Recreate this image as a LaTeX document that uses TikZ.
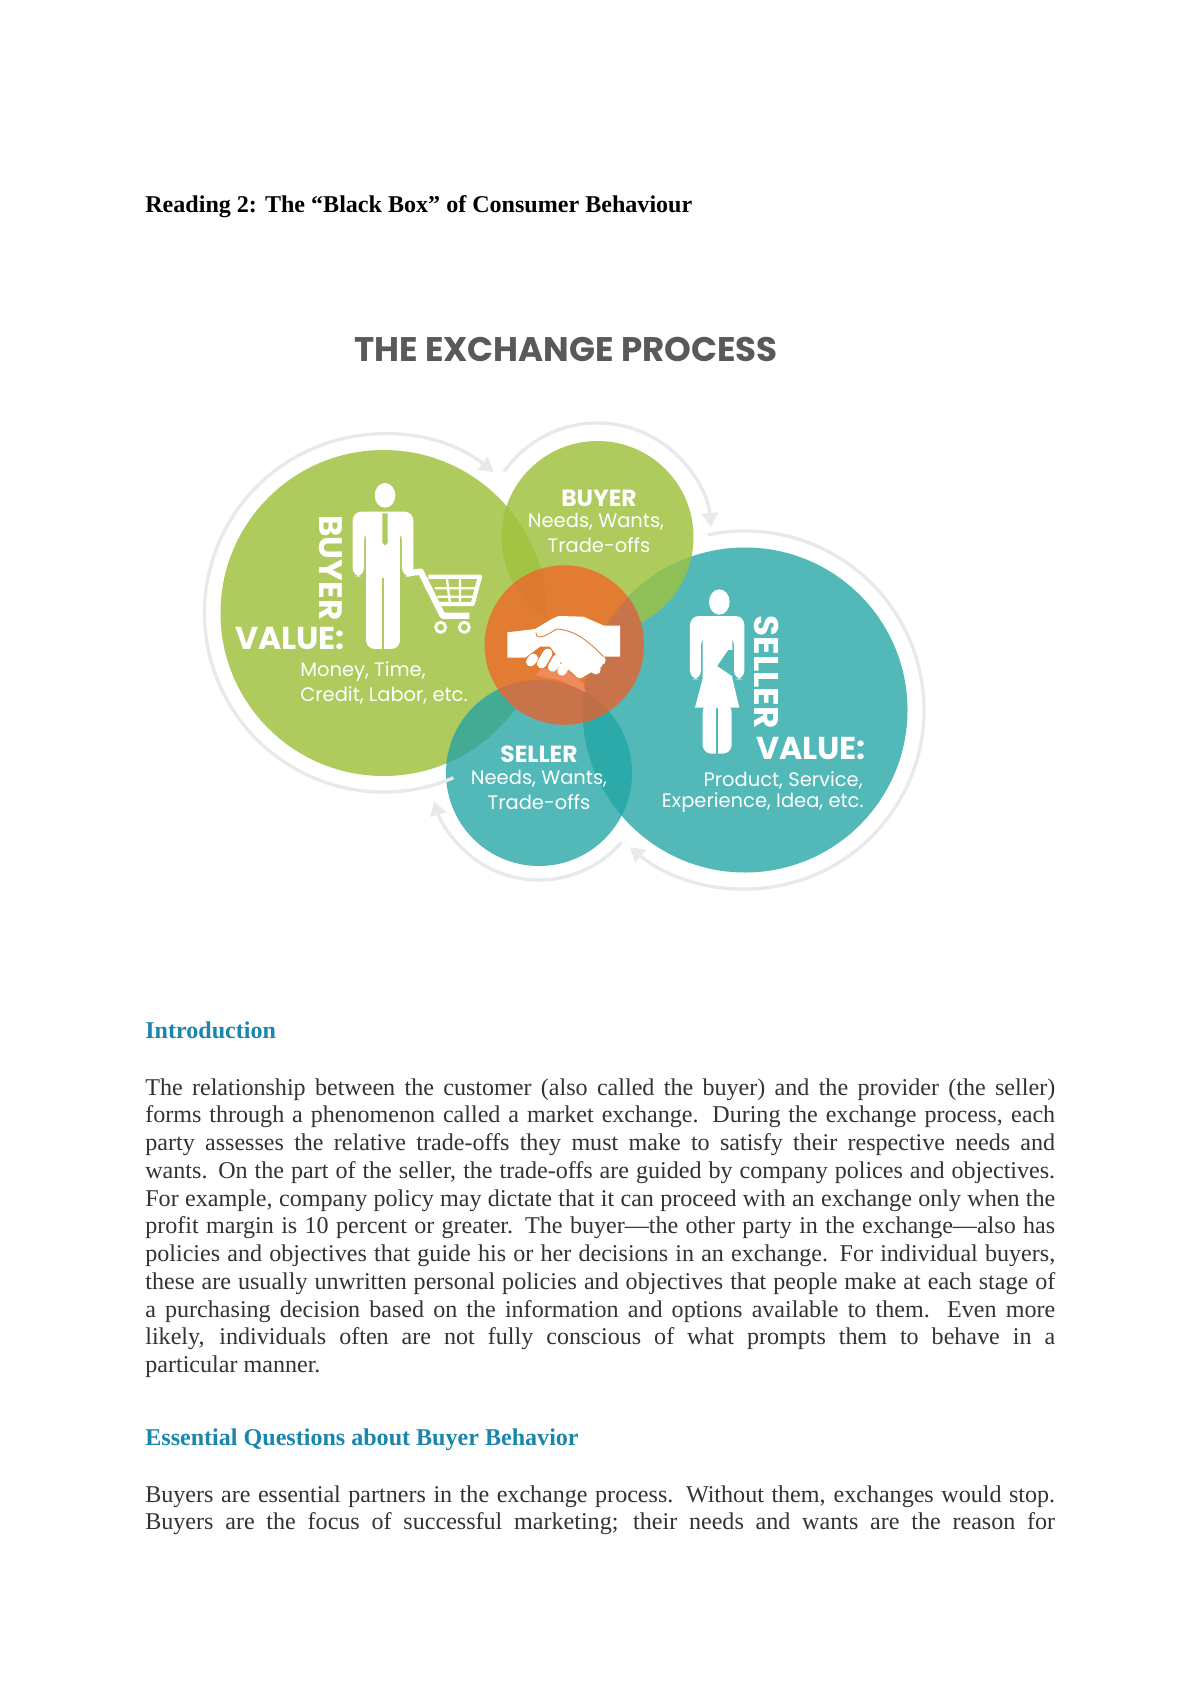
\documentclass[tikz,border=0pt]{standalone}
\usepackage{fontspec}
\setmainfont{Liberation Serif}
\setsansfont{Poppins}
\usetikzlibrary{arrows.meta}
\definecolor{g_base}{HTML}{AFCB5D}
\definecolor{g_over}{HTML}{A3C343}
\definecolor{t_base}{HTML}{52B8B8}
\definecolor{t_over}{HTML}{2CA9A9}
\definecolor{gt_over}{HTML}{8FBF57}
\definecolor{tg_over}{HTML}{43AB93}
\definecolor{o_base}{HTML}{E27C33}
\definecolor{o_over}{HTML}{C8734A}
\definecolor{o_deep}{HTML}{BE6F48}
\definecolor{o_soft}{HTML}{DD7A32}
\definecolor{o_light}{HTML}{EF8A5C}
\definecolor{arc_grey}{HTML}{E8E9EA}
\definecolor{head_grey}{HTML}{58595B}
\definecolor{head_blue}{HTML}{1A86B0}
\definecolor{body_grey}{HTML}{333333}
\newcommand{\bigGreen}{(383.5,613) circle (163)}
\newcommand{\smallGreen}{(597.5,537) circle (96)}
\newcommand{\bigTeal}{(745,710) circle (162.5)}
\newcommand{\smallTeal}{(539,773) circle (93)}
\newcommand{\midOrange}{(564.3,645) circle (79.7)}
\newcommand{\fullline}[1]{\hbox to 18.2cm{#1}}
\tikzset{
  x=0.02cm, y=-0.02cm,
  arc_c/.style = {draw=arc_grey, line width=1.9pt, -{Triangle[length=8pt,width=9pt]}},
  txt_w/.style = {white, inner sep=0pt, font=\sffamily\fontsize{11.1}{13}\selectfont},
  txt_b/.style = {txt_w, font=\sffamily\bfseries\fontsize{13.3}{15}\selectfont},
  txt_v/.style = {txt_w, font=\sffamily\bfseries\fontsize{18}{21}\selectfont},
  txt_s/.style = {txt_w, rotate=-90, font=\sffamily\bfseries\fontsize{18.5}{21}\selectfont},
  head_t/.style = {anchor=base west, inner sep=0pt, font=\bfseries\fontsize{13.7}{15.8}\selectfont},
  para_t/.style = {anchor=north west, inner sep=0pt, text=body_grey, font=\fontsize{13.7}{15.8}\selectfont}
}
\begin{document}
\begin{tikzpicture}
	\useasboundingbox (0,0) rectangle (1200,1696);
	\fill[white] (0,0) rectangle (1200,1696);
	% page text
	\node [head_t] (title) at (145,213) {Reading 2: The “Black Box” of Consumer Behaviour};
	\node [head_t, text=head_blue] (intro) at (145,1038) {Introduction};
	\node [para_t] (introtext) at (145,1078) {\vbox{
		\fullline{The relationship between the customer (also called the buyer) and the provider (the seller)}
		\fullline{forms through a phenomenon called a market exchange. During the exchange process, each}
		\fullline{party assesses the relative trade-offs they must make to satisfy their respective needs and}
		\fullline{wants. On the part of the seller, the trade-offs are guided by company polices and objectives.}
		\fullline{For example, company policy may dictate that it can proceed with an exchange only when the}
		\fullline{profit margin is 10 percent or greater. The buyer—the other party in the exchange—also has}
		\fullline{policies and objectives that guide his or her decisions in an exchange. For individual buyers,}
		\fullline{these are usually unwritten personal policies and objectives that people make at each stage of}
		\fullline{a purchasing decision based on the information and options available to them.  Even more}
		\fullline{likely, individuals often are not fully conscious of what prompts them to behave in a}
		\hbox{particular manner.}}};
	\node [head_t, text=head_blue] (quest) at (145,1445) {Essential Questions about Buyer Behavior};
	\node [para_t] (questtext) at (145,1485) {\vbox{
		\fullline{Buyers are essential partners in the exchange process. Without them, exchanges would stop.}
		\fullline{Buyers are the focus of successful marketing; their needs and wants are the reason for}}};
	\node [anchor=center, inner sep=0pt, text=head_grey, font=\sffamily\bfseries\fontsize{19.4}{23}\selectfont] (process) at (566,349) {THE EXCHANGE PROCESS};
	% circles and their overlaps
	\fill[g_base] \bigGreen;
	\fill[g_base] \smallGreen;
	\begin{scope}\clip \bigGreen; \fill[g_over] \smallGreen; \end{scope}
	\fill[t_base] \bigTeal;
	\fill[t_base] \smallTeal;
	\begin{scope}\clip \smallGreen; \fill[gt_over] \bigTeal; \end{scope}
	\begin{scope}\clip \bigGreen; \fill[tg_over] \smallTeal; \end{scope}
	\begin{scope}\clip \bigTeal; \fill[t_over] \smallTeal; \end{scope}
	\fill[o_base] \midOrange;
	\begin{scope}\clip \midOrange;
		\begin{scope}\clip \bigGreen; \fill[o_soft] \smallGreen; \end{scope}
		\begin{scope}\clip \smallGreen; \fill[o_soft] \bigTeal; \end{scope}
		\fill[o_over] \bigTeal;
		\fill[o_over] \smallTeal;
		\begin{scope}\clip \bigTeal; \fill[o_deep] \smallTeal; \end{scope}
	\end{scope}
	% arcs
	\draw[arc_c] (383.5,613) ++(67:179) arc[start angle=67, end angle=308, radius=179];
	\draw[arc_c] (597.5,537) ++(-145:114) arc[start angle=-145, end angle=-5, radius=114];
	\draw[arc_c] (745,710) ++(-102:179) arc[start angle=-102, end angle=130, radius=179];
	\draw[arc_c] (539,771) ++(41:109) arc[start angle=41, end angle=164, radius=109];
	% circle texts
	\node [txt_b] (b_word) at (599,498) {BUYER};
	\node [txt_w] (b_needs) at (596,522) {Needs, Wants,};
	\node [txt_w] (b_trade) at (599,545) {Trade-offs};
	\node [txt_b] (s_word) at (539,754) {SELLER};
	\node [txt_w] (s_needs) at (539,779) {Needs, Wants,};
	\node [txt_w] (s_trade) at (539,802) {Trade-offs};
	\node [txt_v] (b_value) at (290,638.5) {VALUE:};
	\node [txt_s] (b_side) at (331,568) {BUYER};
	\node [txt_w, anchor=west] (b_money) at (300,672) {Money, Time,};
	\node [txt_w, anchor=west] (b_credit) at (300,695) {Credit, Labor, etc.};
	\node [txt_v] (s_value) at (811,749) {VALUE:};
	\node [txt_s, font=\sffamily\bfseries\fontsize{19.5}{21}\selectfont] (s_side) at (767,672) {SELLER};
	\node [txt_w, anchor=east] (s_prod) at (863,780) {Product, Service,};
	\node [txt_w, anchor=east] (s_exp) at (864,803) {Experience, Idea, etc.};
	% buyer figure and cart
	\begin{scope}[shift={(280,460)}, x=0.00667cm, y=-0.00667cm]
		\fill[white] (315,106) ellipse (31 and 37);
		\fill[white, rounded corners=5pt] (218,350)--(218,155)--(400,155)--(400,350)--(366,350)--(366,215)--(252,215)--(252,350)--cycle;
		\fill[white, rounded corners=5pt] (258,190)--(360,190)--(360,567)--(258,567)--cycle;
		\draw[g_base, line width=0.9pt] (309,355)--(309,567);
		\fill[g_base] (307,160)--(323,160)--(323,248)--(315,256)--(307,248)--cycle;
		\draw[white, line width=3.6pt, line join=round] (380,340)--(422,335)--(488,467)--(568,467);
		\draw[white, line width=2.4pt, line join=round] (445,350)--(600,350)--(578,432)--(475,432);
		\draw[white, line width=1.3pt] (465,385)--(590,385) (472,410)--(583,410) (500,350)--(510,432) (540,350)--(540,432);
		\draw[white, line width=1.6pt] (482,502) circle (15) (553,502) circle (15);
	\end{scope}
	% seller figure
	\begin{scope}[shift={(480,560)}, x=0.00667cm, y=-0.00667cm]
		\fill[white] (718,126) ellipse (31 and 38);
		\fill[white, rounded corners=5pt] (630,358)--(630,168)--(793,168)--(793,358)--(762,358)--(762,228)--(663,228)--(663,358)--cycle;
		\fill[white] (668,200)--(757,200)--(757,355)--(778,443)--(645,443)--(668,355)--cycle;
		\fill[white, rounded corners=5pt] (668,430)--(755,430)--(755,581)--(668,581)--cycle;
		\draw[t_base, line width=0.9pt] (711,445)--(711,581);
		\fill[t_base] (745,270)--(712,318)--(762,352)--(762,270)--cycle;
	\end{scope}
	% handshake
	\begin{scope}[shift={(500,605)}, x=0.00667cm, y=-0.00667cm]
		\fill[o_light] (105,212)--(125,190)--(200,195)--(250,235)--(257,262)--(180,226)--cycle;
		\fill[white] (22,82)--(105,72)--(150,45)--(175,33)--(250,35)--(312,62)--(360,62)--(360,155)--(312,155)--(305,185)--(250,215)--(225,210)--(195,185)--(150,125)--(120,125)--(75,158)--(22,158)--cycle;
		\draw[white, line width=5.4pt, line cap=round] (92,170)--(100,160) (125,176)--(143,145) (158,186)--(172,162) (186,198)--(192,186);
		\draw[white, line width=5.4pt, line cap=round] (190,150)--(240,206) (230,150)--(288,194) (268,140)--(303,166);
		\draw[o_base, line width=0.5pt] (108,82) .. controls (108,105) and (130,98) .. (170,72) .. controls (205,75) and (245,85) .. (310,155);
	\end{scope}
\end{tikzpicture}
\end{document}
